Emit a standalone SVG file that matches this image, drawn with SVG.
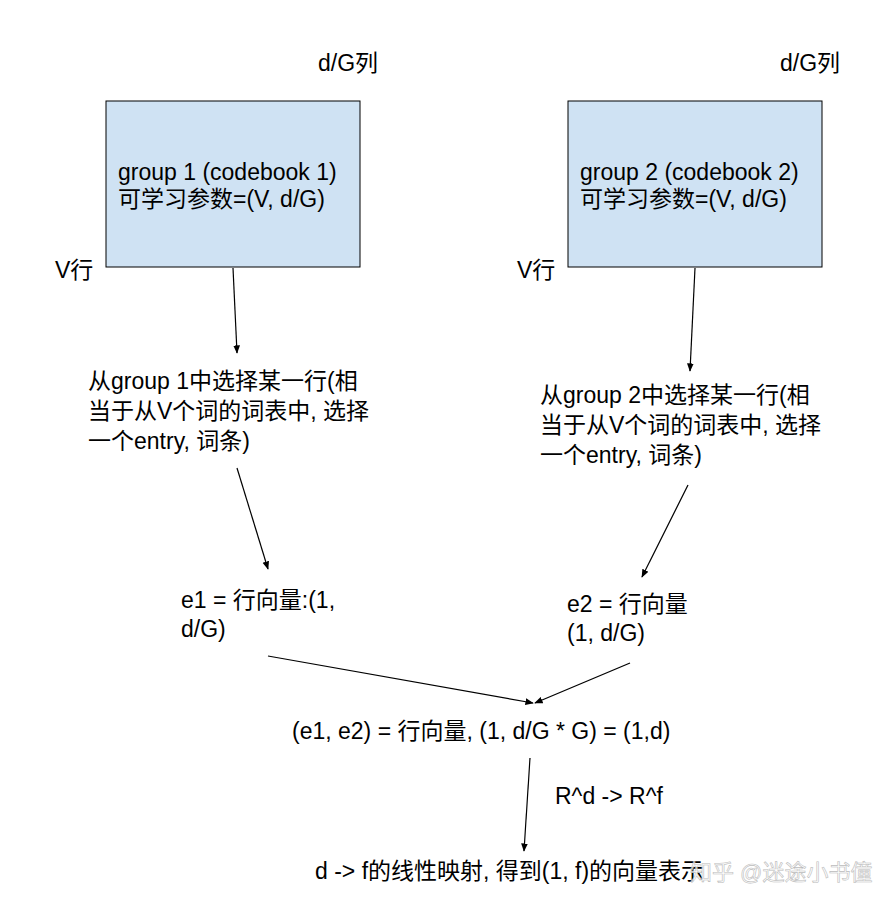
<svg xmlns="http://www.w3.org/2000/svg" width="889" height="908" viewBox="0 0 889 908">
<style>
text{font-family:"Liberation Sans","Noto Sans CJK SC",sans-serif;font-size:23px;fill:#000}
.box{fill:#cfe2f3;stroke:#000;stroke-width:1}
.c{stroke:#000;stroke-width:1.2;fill:none;marker-end:url(#ah)}
</style>
<defs><marker id="ah" viewBox="0 0 10 10" refX="9" refY="5" markerWidth="7" markerHeight="7" orient="auto"><path d="M0,1 L10,5 L0,9 z" fill="#000"/></marker></defs>
<rect width="889" height="908" fill="#fff"/>
<g id="g1"><rect class="box" x="106" y="101" width="254" height="166"/><text x="118" y="180">group 1 (codebook 1)</text><text x="118" y="207">可学习参数=(V, d/G)</text></g>
<g id="g2"><rect class="box" x="568" y="101" width="254" height="166"/><text x="580" y="180">group 2 (codebook 2)</text><text x="580" y="207">可学习参数=(V, d/G)</text></g>
<g id="labels"><text x="318" y="71">d/G列</text><text x="780" y="71">d/G列</text><text x="55" y="278">V行</text><text x="517" y="278">V行</text></g>
<g id="s1"><text x="88" y="389">从group 1中选择某一行(相</text><text x="88" y="419">当于从V个词的词表中, 选择</text><text x="88" y="449">一个entry, 词条)</text></g>
<g id="s2"><text x="540" y="403">从group 2中选择某一行(相</text><text x="540" y="433">当于从V个词的词表中, 选择</text><text x="540" y="463">一个entry, 词条)</text></g>
<g id="e1"><text x="181" y="608">e1 = 行向量:(1,</text><text x="181" y="637">d/G)</text></g>
<g id="e2"><text x="567" y="612">e2 = 行向量</text><text x="567" y="641">(1, d/G)</text></g>
<g id="cat"><text x="292" y="739">(e1, e2) = 行向量, (1, d/G * G) = (1,d)</text></g>
<g id="out"><text x="315" y="879">d -&gt; f的线性映射, 得到(1, f)的向量表示</text></g>
<g id="conn">
<line class="c" x1="233" y1="268" x2="237" y2="353"/>
<line class="c" x1="695" y1="268" x2="690" y2="371"/>
<line class="c" x1="237" y1="468" x2="268" y2="569"/>
<line class="c" x1="688" y1="485" x2="642" y2="577"/>
<line class="c" x1="268" y1="656" x2="533" y2="703"/>
<line class="c" x1="630" y1="663" x2="535" y2="703"/>
<line class="c" x1="530" y1="758" x2="524" y2="851"/>
<text x="555" y="804">R^d -&gt; R^f</text>
</g>
<text x="690" y="880" style="fill:#fff;fill-opacity:0.75;stroke:#bbb;stroke-width:0.6;font-size:22px">知乎 @迷途小书僮</text>
</svg>
